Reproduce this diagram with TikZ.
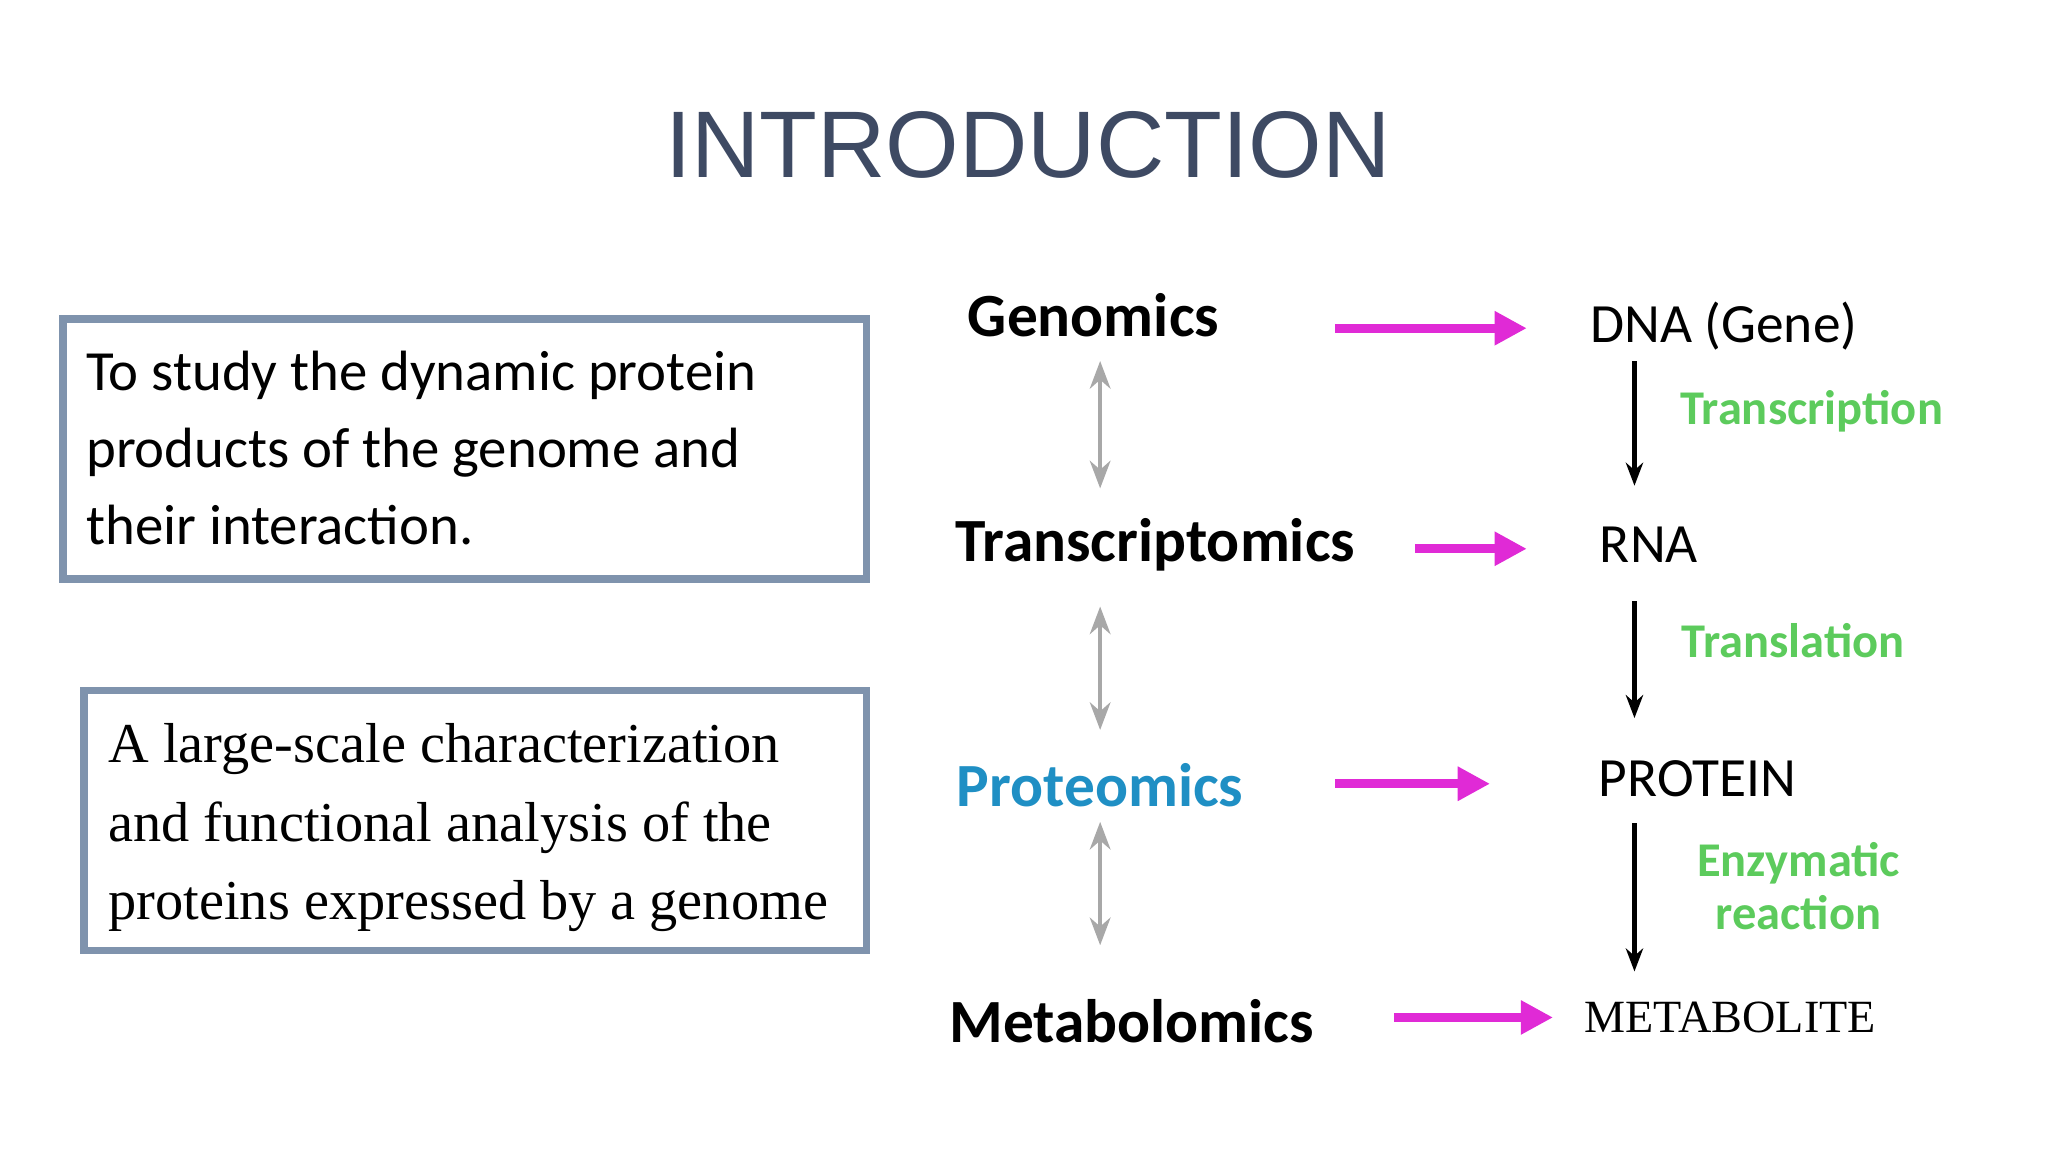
\documentclass[tikz,border=0pt]{standalone}
\usepackage{fontspec}
\setmainfont{Carlito}
\newfontfamily\titlefont{Liberation Sans}
\newfontfamily\seriffont{Liberation Serif}
\usetikzlibrary{arrows.meta}
\definecolor{titlec}{HTML}{3E4A63}
\definecolor{boxc}{HTML}{7F93AD}
\definecolor{pinkc}{HTML}{E02AD6}
\definecolor{greenc}{HTML}{5CCB5C}
\definecolor{bluec}{HTML}{1F8FC4}
\definecolor{grayc}{HTML}{A8A8A8}
\begin{document}
\begin{tikzpicture}[x=0.01cm,y=-0.01cm,
  omics/.style={font=\bfseries\fontsize{13.3}{16}\selectfont},
  prod/.style={font=\fontsize{12}{15}\selectfont},
  pinkarrow/.style={draw=pinkc,line width=2pt,-{Triangle[length=7pt,width=7pt]}},
  grayarrow/.style={draw=grayc,line width=0.8pt,{Stealth[length=6pt]}-{Stealth[length=6pt]}},
  blackarrow/.style={draw=black,line width=0.9pt,-{Stealth[length=5pt]}},
  proc/.style={font=\bfseries\fontsize{10.5}{11.5}\selectfont,text=greenc,align=center}]
\useasboundingbox (0,0) rectangle (1560,878);
\node[font=\titlefont\fontsize{20.5}{25}\selectfont,text=titlec] (title) at (783,110) {INTRODUCTION};
% boxes
\draw[boxc,line width=1.6pt] (48,243) rectangle (660,441);
\node[anchor=north west,align=left,font=\fontsize{12.3}{16.6}\selectfont,inner sep=0] (t1) at (65,267)
 {To study the dynamic protein\\products of the genome and\\their interaction.};
\draw[boxc,line width=1.6pt] (64,526) rectangle (660,724);
\node[anchor=north west,align=left,font=\seriffont\fontsize{12.2}{17.1}\selectfont,inner sep=0] (t2) at (82,550)
 {A large-scale characterization\\and functional analysis of the\\proteins expressed by a genome};
% omics
\node[omics] (gen) at (833,240) {Genomics};
\node[omics] (tra) at (880,415) {Transcriptomics};
\node[omics,text=bluec] (pro) at (838,598) {Proteomics};
\node[omics] (met) at (862,778) {Metabolomics};
% products
\node[prod] (dna) at (1313,248) {DNA (Gene)};
\node[prod] (rna) at (1256,415) {RNA};
\node[prod] (prt) at (1293,593) {PROTEIN};
\node[prod,font=\seriffont\fontsize{10}{12}\selectfont] (mtb) at (1318,775) {METABOLITE};
% pink arrows
\coordinate (p1a) at (1017,250); \coordinate (p1b) at (1163,250);
\coordinate (p2a) at (1078,418); \coordinate (p2b) at (1163,418);
\coordinate (p3a) at (1017,597); \coordinate (p3b) at (1135,597);
\coordinate (p4a) at (1062,775); \coordinate (p4b) at (1183,775);
\draw[pinkarrow] (p1a) -- (p1b);
\draw[pinkarrow] (p2a) -- (p2b);
\draw[pinkarrow] (p3a) -- (p3b);
\draw[pinkarrow] (p4a) -- (p4b);
% gray double arrows
\coordinate (g1a) at (838,275); \coordinate (g1b) at (838,372);
\coordinate (g2a) at (838,462); \coordinate (g2b) at (838,556);
\coordinate (g3a) at (838,626); \coordinate (g3b) at (838,720);
\draw[grayarrow] (g1a) -- (g1b);
\draw[grayarrow] (g2a) -- (g2b);
\draw[grayarrow] (g3a) -- (g3b);
% black arrows
\coordinate (b1a) at (1245,275); \coordinate (b1b) at (1245,370);
\coordinate (b2a) at (1245,458); \coordinate (b2b) at (1245,547);
\coordinate (b3a) at (1245,627); \coordinate (b3b) at (1245,740);
\draw[blackarrow] (b1a) -- (b1b);
\draw[blackarrow] (b2a) -- (b2b);
\draw[blackarrow] (b3a) -- (b3b);
% process labels
\node[proc] (l1) at (1380,313) {Transcription};
\node[proc] (l2) at (1366,488) {Translation};
\node[proc] (l3) at (1370,675) {Enzymatic\\reaction};
\end{tikzpicture}
\end{document}
